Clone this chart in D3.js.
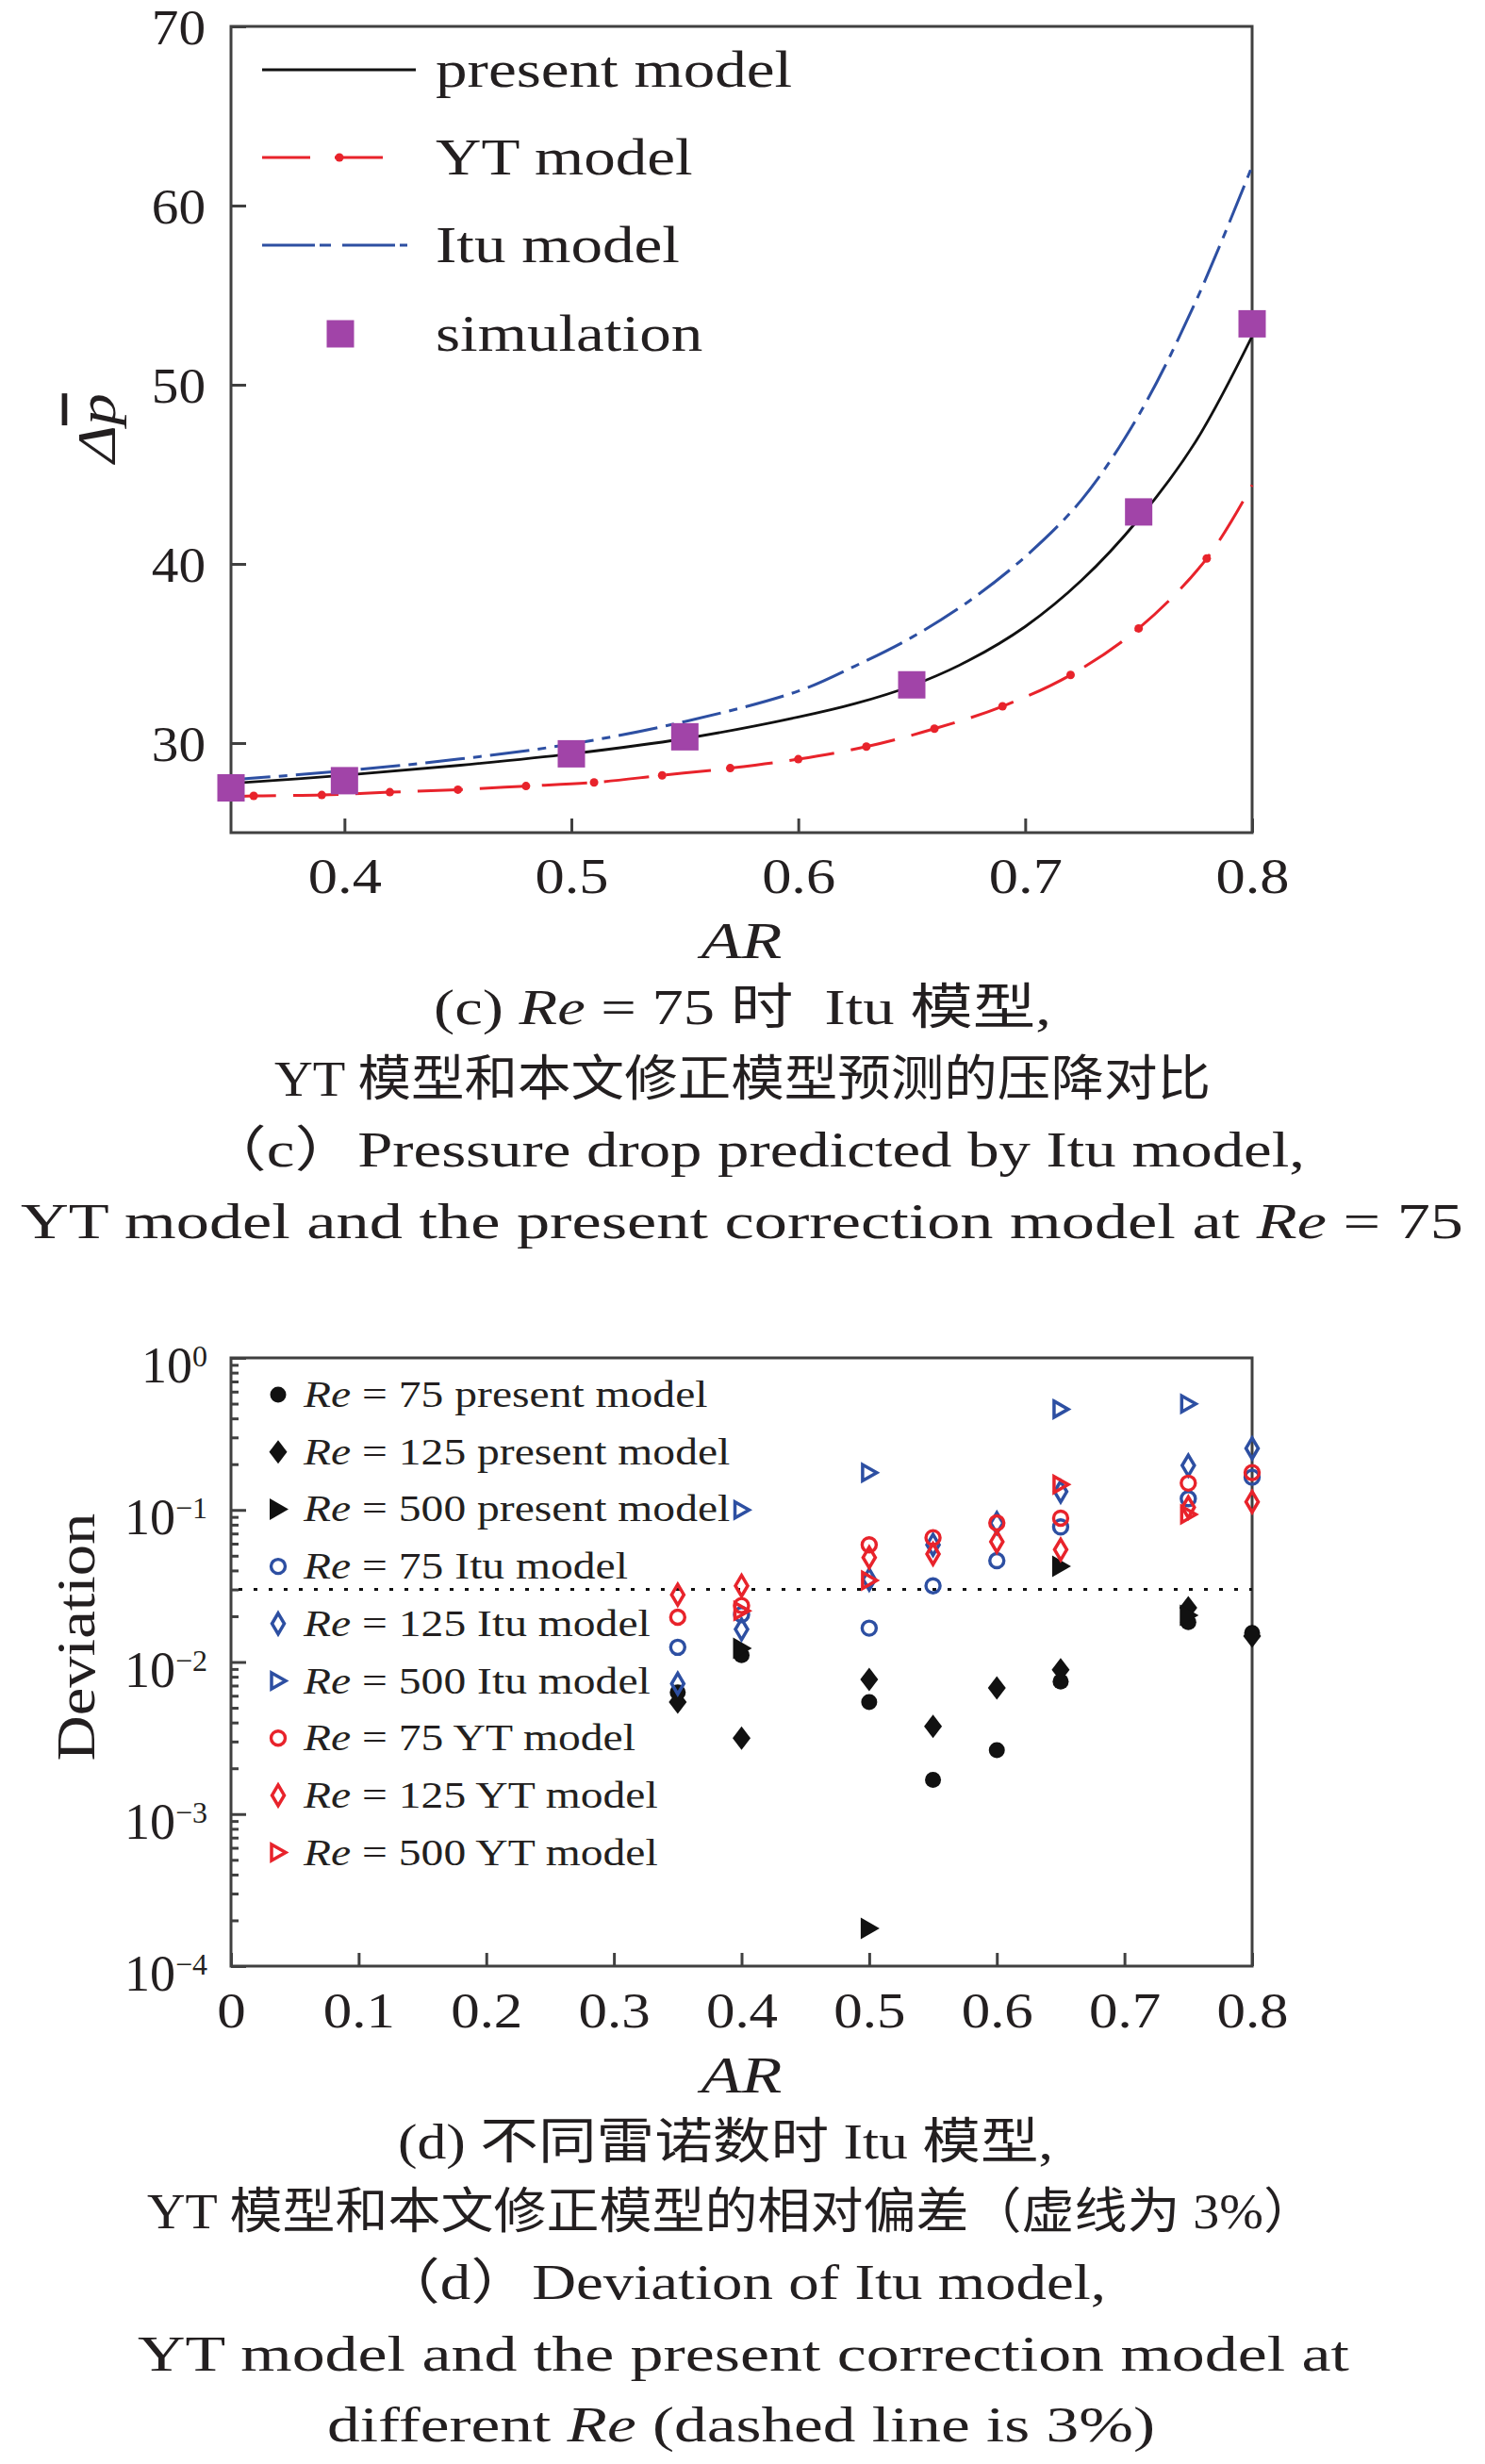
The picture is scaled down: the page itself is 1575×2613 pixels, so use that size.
<!DOCTYPE html>
<html>
<head>
<meta charset="utf-8">
<script src="https://cdn.jsdelivr.net/npm/d3@7"></script>
<style>
  body { margin: 0; background: #fff; }
  svg text { fill: #231f20; font-family: "Liberation Serif", "Noto Sans CJK SC", serif; white-space: pre; }
</style>
</head>
<body>
<div id="container"></div>
<script>
/* 1. CONSTANTS */
const width = 1575, height = 2613;
const axisColor = "#404040";
const blue = "#2d4fa2", red = "#e8232b", purple = "#a144a8", black = "#111";

const plotC = {left: 245, right: 1328, top: 28, bottom: 883};
const plotD = {left: 245, right: 1328, top: 1440, bottom: 2085};

/* 2. DATA */
// (c) pressure drop vs AR at Re = 75
const presentAR  = [0.35, 0.4, 0.45, 0.5, 0.55, 0.6, 0.625, 0.65, 0.675, 0.7, 0.725, 0.75, 0.775, 0.8];
const presentVal = [27.75, 28.2, 28.75, 29.4, 30.25, 31.45, 32.2, 33.2, 34.6, 36.5, 39.1, 42.5, 46.8, 52.7];

const ituAR  = [0.35, 0.4, 0.45, 0.5, 0.55, 0.6, 0.625, 0.65, 0.675, 0.7, 0.725, 0.75, 0.775, 0.8];
const ituVal = [27.95, 28.45, 29.1, 29.95, 31.2, 32.9, 34.3, 35.9, 37.9, 40.4, 43.6, 48.3, 54.6, 62.2];

// YT curve, dots at the inner points
const ytAR  = [0.35, 0.36, 0.39, 0.42, 0.45, 0.48, 0.51, 0.54, 0.57, 0.6, 0.63, 0.66, 0.69, 0.72, 0.75, 0.78, 0.8];
const ytVal = [27.0, 27.05, 27.1, 27.26, 27.4, 27.6, 27.8, 28.2, 28.6, 29.1, 29.8, 30.8, 32.05, 33.8, 36.4, 40.3, 44.4];

const simAR  = [0.35, 0.4, 0.5, 0.55, 0.65, 0.75, 0.8];
const simVal = [27.5, 27.9, 29.4, 30.35, 33.25, 42.9, 53.4];

const legendC = ["present model", "YT model", "Itu model", "simulation"];
const xTicksC = [0.4, 0.5, 0.6, 0.7, 0.8];
const xTickLabelsC = ["0.4", "0.5", "0.6", "0.7", "0.8"];
const yTicksC = [30, 40, 50, 60, 70];
const yTickLabelsC = ["30", "40", "50", "60", "70"];

// (d) deviation, Re = 75 and 125
const arD = [0.35, 0.4, 0.5, 0.55, 0.6, 0.65, 0.75, 0.8];
const present75  = [0.0063, 0.0111, 0.00545, 0.00168, 0.00263, 0.00743, 0.0183, 0.0155];
const present125 = [0.00545, 0.00316, 0.00768, 0.00378, 0.00675, 0.00889, 0.0227, 0.0148];
const itu75  = [0.0125, 0.0205, 0.0167, 0.0317, 0.0464, 0.0773, 0.1186, 0.164];
const itu125 = [0.0072, 0.0164, 0.0349, 0.059, 0.082, 0.132, 0.196, 0.254];
const yt75   = [0.0197, 0.0235, 0.059, 0.0657, 0.0822, 0.0883, 0.150, 0.176];
const yt125  = [0.0277, 0.0317, 0.0487, 0.0513, 0.0618, 0.0548, 0.104, 0.113];
// Re = 500 only at some AR
const arD500 = [0.4, 0.5, 0.65, 0.75];
const present500 = [0.0123, 0.000177, 0.0426, 0.0203];
const itu500     = [0.1, 0.176, 0.46, 0.499];
const yt500      = [0.0217, 0.0344, 0.147, 0.0935];

const limitD = 0.03; // dotted 3% line
const xTicksD = [0, 0.1, 0.2, 0.3, 0.4, 0.5, 0.6, 0.7, 0.8];
const xTickLabelsD = ["0", "0.1", "0.2", "0.3", "0.4", "0.5", "0.6", "0.7", "0.8"];
const yTicksD = [1e-4, 1e-3, 1e-2, 1e-1, 1];
const yTickExpD = ["\u22124", "\u22123", "\u22122", "\u22121", "0"];
const legendReD = ["75", "125", "500", "75", "125", "500", "75", "125", "500"];
const legendModelD = ["present model", "present model", "present model", "Itu model", "Itu model", "Itu model", "YT model", "YT model", "YT model"];

// captions: [text, italic]
const captionC = [
  [["(c) ", 0], ["Re", 1], [" = 75 时  Itu 模型,", 0]],
  [["YT 模型和本文修正模型预测的压降对比", 0]],
  [["（c）Pressure drop predicted by Itu model,", 0]],
  [["YT model and the present correction model at ", 0], ["Re", 1], [" = 75", 0]]
];
const captionD = [
  [["(d) 不同雷诺数时 Itu 模型,", 0]],
  [["YT 模型和本文修正模型的相对偏差（虚线为 3%）", 0]],
  [["（d）Deviation of Itu model,", 0]],
  [["YT model and the present correction model at", 0]],
  [["different ", 0], ["Re", 1], [" (dashed line is 3%)", 0]]
];

/* 3. SCALES */
const xC = d3.scaleLinear().domain([0.35, 0.8]).range([plotC.left, plotC.right]);
const yC = d3.scaleLinear().domain([25, 70]).range([plotC.bottom, plotC.top]);
const xD = d3.scaleLinear().domain([0, 0.8]).range([plotD.left, plotD.right]);
const yD = d3.scaleLog().domain([1e-4, 1]).range([plotD.bottom, plotD.top]);

/* 4. SVG */
const svg = d3.select("#container").append("svg")
  .attr("width", width).attr("height", height)
  .style("background", "#fff");

function label(parent, x, y, size, sx, anchor) {
  return parent.append("text")
    .attr("transform", `translate(${x},${y}) scale(${sx},1)`)
    .attr("text-anchor", anchor || "start")
    .style("font-size", size + "px");
}

function styleAxis(g) {
  g.select(".domain").remove();
  g.selectAll(".tick line").attr("stroke", axisColor).attr("stroke-width", 3);
}

// marker shapes
const shapes = {
  dotFilled:  (g, c) => g.append("circle").attr("r", 8.5).attr("fill", c),
  dotOpen:    (g, c) => g.append("circle").attr("r", 7.5).attr("fill", "none").attr("stroke", c).attr("stroke-width", 3.4),
  diaFilled:  (g, c) => g.append("path").attr("d", "M0,-12.5L9.5,0L0,12.5L-9.5,0Z").attr("fill", c),
  diaOpen:    (g, c) => g.append("path").attr("d", "M0,-11L6.5,0L0,11L-6.5,0Z").attr("fill", "none").attr("stroke", c).attr("stroke-width", 3.5),
  triFilled:  (g, c) => g.append("path").attr("d", "M-9,-11.5L11,0L-9,11.5Z").attr("fill", c),
  triOpen:    (g, c) => g.append("path").attr("d", "M-7,-8.5L8,0L-7,8.5Z").attr("fill", "none").attr("stroke", c).attr("stroke-width", 3.5).attr("stroke-linejoin", "miter")
};

/* ---------- (c) ---------- */
const gC = svg.append("g");

// axes with inward ticks
const yAxisC = gC.append("g").attr("transform", `translate(${plotC.left},0)`)
  .call(d3.axisLeft(yC).tickValues(yTicksC).tickSizeInner(-16).tickSizeOuter(0)
    .tickFormat((d, i) => yTickLabelsC[i]));
styleAxis(yAxisC);
yAxisC.selectAll(".tick text")
  .attr("x", 0).attr("dy", 0).attr("y", 0)
  .attr("transform", "translate(-27,18) scale(1.1,1)")
  .style("font-size", "52px").attr("fill", "#231f20");

const xAxisC = gC.append("g").attr("transform", `translate(0,${plotC.bottom})`)
  .call(d3.axisBottom(xC).tickValues(xTicksC).tickSizeInner(-15).tickSizeOuter(0)
    .tickFormat((d, i) => xTickLabelsC[i]));
styleAxis(xAxisC);
xAxisC.selectAll(".tick text")
  .attr("y", 0).attr("dy", 0)
  .attr("transform", "translate(0,64) scale(1.2,1)")
  .style("font-size", "52px").attr("fill", "#231f20");

gC.append("rect")
  .attr("x", plotC.left).attr("y", plotC.top)
  .attr("width", plotC.right - plotC.left).attr("height", plotC.bottom - plotC.top)
  .attr("fill", "none").attr("stroke", axisColor).attr("stroke-width", 3);

const lineC = d3.line().x(d => xC(d[0])).y(d => yC(d[1])).curve(d3.curveCatmullRom.alpha(0.5));

gC.append("path").datum(d3.zip(ituAR, ituVal)).attr("d", lineC)
  .attr("fill", "none").attr("stroke", blue).attr("stroke-width", 3)
  .attr("stroke-dasharray", "42,9,9,9");

gC.append("path").datum(d3.zip(ytAR, ytVal)).attr("d", lineC)
  .attr("fill", "none").attr("stroke", red).attr("stroke-width", 3)
  .attr("stroke-dasharray", "48,18");

gC.selectAll(".ytdot").data(d3.zip(ytAR, ytVal).slice(1, -1)).join("circle")
  .attr("class", "ytdot")
  .attr("cx", d => xC(d[0])).attr("cy", d => yC(d[1]))
  .attr("r", 4.5).attr("fill", red);

gC.append("path").datum(d3.zip(presentAR, presentVal)).attr("d", lineC)
  .attr("fill", "none").attr("stroke", black).attr("stroke-width", 2.8);

gC.selectAll(".sim").data(d3.zip(simAR, simVal)).join("rect")
  .attr("class", "sim")
  .attr("x", d => xC(d[0]) - 14.5).attr("y", d => yC(d[1]) - 14.5)
  .attr("width", 29).attr("height", 29).attr("fill", purple);

// legend (c)
const legRowsC = [74, 167, 260, 354];
const legLineX0 = 278, legLineX1 = 441;
gC.append("line").attr("x1", legLineX0).attr("x2", legLineX1)
  .attr("y1", legRowsC[0]).attr("y2", legRowsC[0]).attr("stroke", black).attr("stroke-width", 2.8);
gC.append("line").attr("x1", legLineX0).attr("x2", 413)
  .attr("y1", legRowsC[1]).attr("y2", legRowsC[1]).attr("stroke", red).attr("stroke-width", 3)
  .attr("stroke-dasharray", "51,26");
gC.append("circle").attr("cx", 360).attr("cy", legRowsC[1]).attr("r", 4.5).attr("fill", red);
gC.append("line").attr("x1", legLineX0).attr("x2", 432)
  .attr("y1", legRowsC[2]).attr("y2", legRowsC[2]).attr("stroke", blue).attr("stroke-width", 3)
  .attr("stroke-dasharray", "56,5,12,12");
gC.append("rect").attr("x", 361 - 14.5).attr("y", legRowsC[3] - 14.5)
  .attr("width", 29).attr("height", 29).attr("fill", purple);
legendC.forEach((t, i) => {
  label(gC, 462, legRowsC[i] + 18, 55, 1.22).text(t);
});

// axis titles (c)
label(gC, 786.5, 1016, 54, 1.3, "middle").style("font-style", "italic").text("AR");
const dp = gC.append("text")
  .attr("transform", "translate(122,454) rotate(-90) scale(1.19,1)")
  .attr("text-anchor", "middle")
  .style("font-size", "57px").style("font-style", "italic");
dp.append("tspan").text("Δ");
dp.append("tspan").style("text-decoration", "overline").text("p");

/* ---------- (d) ---------- */
const gD = svg.append("g");

const minorD = [];
[1e-4, 1e-3, 1e-2, 1e-1].forEach(dec => d3.range(2, 10).forEach(k => minorD.push(dec * k)));

const yMinorD = gD.append("g").attr("transform", `translate(${plotD.left},0)`)
  .call(d3.axisLeft(yD).tickValues(minorD).tickSizeInner(-8).tickSizeOuter(0).tickFormat(""));
styleAxis(yMinorD);
const yMajorD = gD.append("g").attr("transform", `translate(${plotD.left},0)`)
  .call(d3.axisLeft(yD).tickValues(yTicksD).tickSizeInner(-16).tickSizeOuter(0).tickFormat(""));
styleAxis(yMajorD);

yTicksD.forEach((v, i) => {
  const t = gD.append("text")
    .attr("x", 220).attr("y", yD(v) + 26)
    .attr("text-anchor", "end")
    .style("font-size", "54px");
  t.append("tspan").text("10");
  t.append("tspan").attr("dy", -17).style("font-size", "32px").text(yTickExpD[i]);
});

const xAxisD = gD.append("g").attr("transform", `translate(0,${plotD.bottom})`)
  .call(d3.axisBottom(xD).tickValues(xTicksD).tickSizeInner(-14).tickSizeOuter(0)
    .tickFormat((d, i) => xTickLabelsD[i]));
styleAxis(xAxisD);
xAxisD.selectAll(".tick text")
  .attr("y", 0).attr("dy", 0)
  .attr("transform", "translate(0,65) scale(1.15,1)")
  .style("font-size", "53px").attr("fill", "#231f20");

gD.append("rect")
  .attr("x", plotD.left).attr("y", plotD.top)
  .attr("width", plotD.right - plotD.left).attr("height", plotD.bottom - plotD.top)
  .attr("fill", "none").attr("stroke", axisColor).attr("stroke-width", 3);

// dotted 3% line
gD.append("line")
  .attr("x1", xD(0)).attr("x2", xD(0.8))
  .attr("y1", yD(limitD)).attr("y2", yD(limitD))
  .attr("stroke", "#111").attr("stroke-width", 3)
  .attr("stroke-dasharray", "4,12").attr("stroke-dashoffset", -8);

const seriesD = [
  {ar: arD, v: present75, shape: "dotFilled", color: black},
  {ar: arD, v: present125, shape: "diaFilled", color: black},
  {ar: arD500, v: present500, shape: "triFilled", color: black},
  {ar: arD, v: itu75, shape: "dotOpen", color: blue},
  {ar: arD, v: itu125, shape: "diaOpen", color: blue},
  {ar: arD500, v: itu500, shape: "triOpen", color: blue},
  {ar: arD, v: yt75, shape: "dotOpen", color: red},
  {ar: arD, v: yt125, shape: "diaOpen", color: red},
  {ar: arD500, v: yt500, shape: "triOpen", color: red}
];

seriesD.forEach(s => {
  d3.zip(s.ar, s.v).forEach(p => {
    const g = gD.append("g").attr("transform", `translate(${xD(p[0])},${yD(p[1])})`);
    shapes[s.shape](g, s.color);
  });
});

// legend (d)
seriesD.forEach((s, i) => {
  const yRow = 1479 + i * 60.7;
  const g = gD.append("g").attr("transform", `translate(295,${yRow})`);
  shapes[s.shape](g, s.color);
  const t = label(gD, 322, yRow + 13, 39, 1.22);
  t.append("tspan").style("font-style", "italic").text("Re");
  t.append("tspan").text(` = ${legendReD[i]} ${legendModelD[i]}`);
});

label(gD, 786.5, 2219, 54, 1.3, "middle").style("font-style", "italic").text("AR");
gD.append("text")
  .attr("transform", "translate(100,1736) rotate(-90) scale(1.17,1)")
  .attr("text-anchor", "middle")
  .style("font-size", "57px")
  .text("Deviation");

/* ---------- captions ---------- */
function caption(parts, x, y, w) {
  const t = svg.append("text")
    .attr("x", x).attr("y", y)
    .attr("textLength", w).attr("lengthAdjust", "spacingAndGlyphs")
    .style("font-size", "52px");
  parts.forEach(p => t.append("tspan").style("font-style", p[1] ? "italic" : "normal").text(p[0]));
}
const capLayoutC = [[460, 1086, 655], [291, 1162, 993], [216, 1237, 1168], [22, 1313, 1530]];
captionC.forEach((c, i) => caption(c, ...capLayoutC[i]));
const capLayoutD = [[422, 2289, 695], [156, 2363, 1240], [402, 2438, 771], [146, 2514, 1285], [347, 2589, 878]];
captionD.forEach((c, i) => caption(c, ...capLayoutD[i]));
</script>
</body>
</html>
